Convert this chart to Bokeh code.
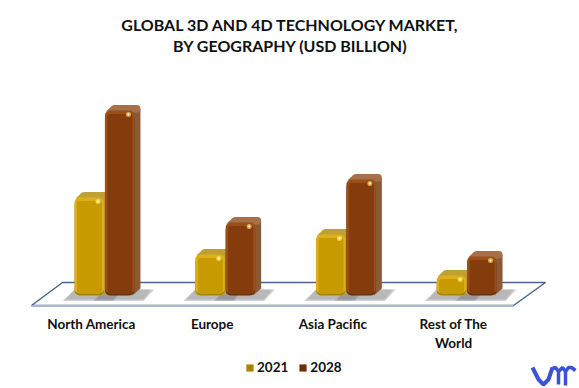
from bokeh.plotting import figure
from bokeh.embed import file_html
from bokeh.resources import INLINE
from bokeh.models import Range1d, FixedTicker, Legend, LegendItem, LinearAxis
from bokeh.core.properties import value

title_lines = ["GLOBAL 3D AND 4D TECHNOLOGY MARKET,", "BY GEOGRAPHY (USD BILLION)"]
categories = ["North America", "Europe", "Asia Pacific", "Rest of The\nWorld"]
series_names = ["2021", "2028"]
values_2021 = [9.8, 4.1, 6.1, 2.0]
values_2028 = [18.5, 7.3, 11.6, 3.9]

FONT = "Lato"
W, H = 579, 388
# px helpers: x unit = one category, y unit = one billion
PX_X = 120.7
PX_Y = 10.0
X0_PX = 91.0
BASE_PX = 295.0

p = figure(width=W, height=H, output_backend="svg", toolbar_location=None,
           x_axis_type=None, y_axis_type=None,
           min_border_left=0, min_border_right=0, min_border_top=0, min_border_bottom=0,
           outline_line_color=None, background_fill_color="white",
           border_fill_color="white")
p.grid.visible = False
p.x_range = Range1d(-X0_PX / PX_X, (W - X0_PX) / PX_X)
p.y_range = Range1d((BASE_PX - H) / PX_Y, BASE_PX / PX_Y)

def dx(px): return px / PX_X
def dy(px): return px / PX_Y
def X(px): return (px - X0_PX) / PX_X
def Y(px): return (BASE_PX - px) / PX_Y

# ---- floor
p.patch([X(31), X(62), X(545), X(513)], [Y(305), Y(282), Y(282), Y(305)],
        fill_color="white", line_color="#4A6491", line_width=1.5)
p.line([X(31), X(513)], [Y(305.5), Y(305.5)], line_color="#A9B7CE", line_width=2)

# ---- bars
SHIFT = dx(13)
BAR_W = dx(29.5)
GAP = dx(15.2)
DX, DY = dx(6), dy(5.5)
palettes = {
    0: dict(face="#C79A00", light="#DDB01A", dark="#A98300", top="#BFA033", side="#C2A232", spec="#FFE060"),
    1: dict(face="#843C0C", light="#9C4E18", dark="#6B3008", top="#A5704A", side="#8A5A38", spec="#F8C860"),
}

# floor shadows, laid down under every bar first
for s in range(2):
    sign = -1 if s == 0 else 1
    for i in range(len(categories)):
        c = i + SHIFT + sign * GAP
        l, r = c - BAR_W / 2, c + BAR_W / 2
        for a, g in [(0.16, 4), (0.22, 2), (0.32, 0)]:
            p.patch([l - dx(12 - g), l, r + dx(20 - g), r + dx(9)],
                    [Y(300.5 - g / 2), Y(289), Y(289), Y(300.5 - g / 2)],
                    fill_color="#808080", fill_alpha=a, line_color=None)

legend_renderers = []
for s, vals in enumerate([values_2021, values_2028]):
    col = palettes[s]
    sign = -1 if s == 0 else 1
    rs = []
    for i, v in enumerate(vals):
        c = i + SHIFT + sign * GAP
        l, r = c - BAR_W / 2, c + BAR_W / 2
        # depth: side and top faces
        p.patch([r - dx(2), r + DX, r + DX, r - dx(2)],
                [dy(0), dy(7), v + DY - dy(4), v + DY - dy(4)],
                fill_color=col["side"], line_color=None)
        p.quad(left=[l + dx(6)], right=[r + DX], top=[v + DY], bottom=[v - dy(2)],
               fill_color=col["top"], line_color=None, border_radius=4)
        p.patch([l + dx(1), l + dx(7), r, r],
                [v - dy(1), v + DY - dy(1), v + DY - dy(1), v - dy(1)],
                fill_color=col["top"], line_color=None)
        # front with bevel
        q = p.quad(left=[l], right=[r], top=[v - dy(3)], bottom=[0],
                   fill_color=col["dark"], line_color=None, border_radius=5)
        p.quad(left=[l], right=[r], top=[v], bottom=[dy(2)],
               fill_color=col["light"], line_color=None, border_radius=5)
        p.quad(left=[l + dx(2.5)], right=[r - dx(2)], top=[v - dy(3.5)], bottom=[dy(2.5)],
               fill_color=col["face"], line_color=None, border_radius=2)
        # specular
        p.scatter([r - dx(6)], [v - dy(4)], size=5, marker="circle", fill_color=col["spec"],
                  line_color=None, fill_alpha=0.75)
        p.scatter([r - dx(6)], [v - dy(4)], size=2, marker="circle", fill_color="white", line_color=None)
        rs.append(q)
    legend_renderers.append(rs[0])

# ---- axis
ax = LinearAxis(ticker=FixedTicker(ticks=list(range(len(categories)))),
                major_label_overrides={i: c for i, c in enumerate(categories)},
                major_label_text_font=FONT, major_label_text_font_style="bold",
                major_label_text_font_size="13.5px", major_label_text_color="#111111",
                major_label_standoff=0, major_tick_line_color=None, minor_tick_line_color=None,
                axis_line_color=None, fixed_location=Y(309))
p.add_layout(ax, "below")

# ---- title
for line, y_px in zip(title_lines, [23.5, 44.5]):
    p.text([X(290)], [Y(y_px)], text=[line], text_font=value(FONT), text_font_style="bold",
           text_font_size="16px", text_color="#111111", text_align="center", text_baseline="middle")

# ---- legend
leg = Legend(items=[LegendItem(label=n, renderers=[r]) for n, r in zip(series_names, legend_renderers)],
             orientation="horizontal", location=(245, 13), border_line_color=None,
             background_fill_alpha=0, label_text_font=FONT, label_text_font_style="bold",
             label_text_font_size="13.5px", label_text_color="#111111",
             glyph_width=9, glyph_height=9, spacing=10, label_standoff=3, padding=0, margin=0)
p.add_layout(leg, "center")

# ---- logo
logo = "#3B52D6"
p.line([X(532), X(538), X(543), X(548), X(552)], [Y(367), Y(379), Y(384), Y(379), Y(367)], line_color=logo, line_width=4)
p.line([X(552), X(555), X(558), X(558)], [Y(368), Y(367), Y(371), Y(384)], line_color=logo, line_width=3.5)
p.line([X(558), X(562), X(565), X(565)], [Y(371), Y(367), Y(371), Y(385)], line_color=logo, line_width=3.5)
p.line([X(565), X(568), X(571), X(575)], [Y(371), Y(367), Y(367), Y(370)], line_color=logo, line_width=3.5)

open("out.html", "w").write(file_html(p, INLINE))
